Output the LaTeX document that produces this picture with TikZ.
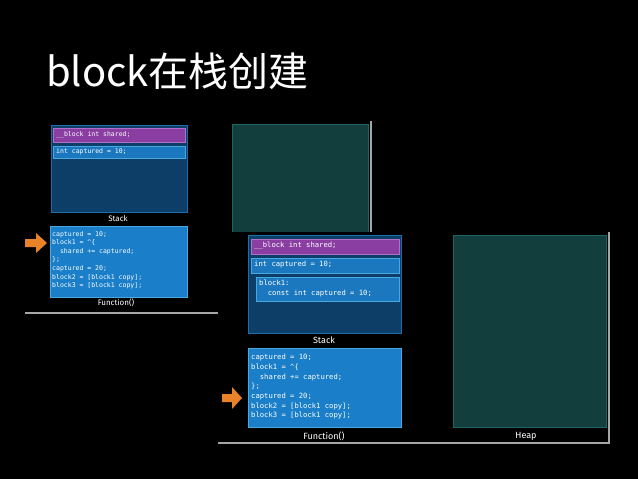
\documentclass[tikz,border=0pt]{standalone}
\usepackage{fontspec}
\setmainfont{Noto Sans CJK SC}
\newfontfamily\codefont{DejaVu Sans Mono}
\newfontfamily\labfont{Fira Sans}
\begin{document}
\begin{tikzpicture}[x=1pt,y=-1pt,
  stackbox/.style={draw=stackedge,fill=stackfill,line width=0.8pt},
  heapbox/.style={draw=heapedge,fill=heapfill,line width=0.8pt},
  purp/.style={draw=purpedge,fill=purpfill,line width=0.8pt},
  capbox/.style={draw=capedge,fill=capfill,line width=0.8pt},
  func/.style={draw=capedge,fill=funcfill,line width=0.8pt},
  code/.style 2 args={text=white,anchor=north west,inner sep=0pt,align=left,font=\codefont\fontsize{#1}{#2}\selectfont},
  lab/.style={text=white,font=\labfont\fontsize{#1}{#1}\selectfont},
  arr/.style={fill=orangeA,draw=none},
  edge/.style={draw=gray!70,line width=1.2pt}]
\definecolor{stackfill}{HTML}{0C3E68}
\definecolor{stackedge}{HTML}{1C6FA8}
\definecolor{heapfill}{HTML}{123E3E}
\definecolor{heapedge}{HTML}{1F6464}
\definecolor{purpfill}{HTML}{8A3EA2}
\definecolor{purpedge}{HTML}{B070C8}
\definecolor{capfill}{HTML}{1C78BE}
\definecolor{capedge}{HTML}{4AA8E0}
\definecolor{funcfill}{HTML}{1A7EC8}
\definecolor{orangeA}{HTML}{E8832A}
\fill[black] (0,0) rectangle (638,479);
\useasboundingbox (0,0) rectangle (638,479);
\node[anchor=base west,text=white,inner sep=0pt,font=\fontsize{40}{40}\selectfont] (title) at (46,86) {block在栈创建};
% panel 1
\draw[edge] (371,121) -- (371,232);
\draw[edge] (25,313) -- (218,313);
\draw[stackbox] (51,125) rectangle (187,212);
\draw[purp] (53,128) rectangle (185,142);
\node[code={6.5}{8.6}] (p1a) at (56,131) {\_\_block int shared;};
\draw[capbox] (53,146) rectangle (185,158);
\node[code={6.5}{8.6}] (p1b) at (56,148) {int captured = 10;};
\node[lab=8] (p1s) at (118,219) {Stack};
\draw[func] (50,226) rectangle (187,297);
\node[code={6.5}{8.6}] (p1c) at (52,231) {captured = 10;\\block1 = \^{}\{\\\ \ shared += captured;\\\};\\captured = 20;\\block2 = [block1 copy];\\block3 = [block1 copy];};
\node[lab=8] (p1f) at (116,303) {Function()};
\fill[arr] (25,239) -- (36,239) -- (36,233) -- (47,243) -- (36,253) -- (36,247) -- (25,247) -- cycle;
\draw[heapbox] (232,124) rectangle (368,232);
% panel 2
\fill[black] (218,232) rectangle (608,442);
\draw[edge] (609,232) -- (609,444);
\draw[edge] (218,443) -- (609,443);
\draw[stackbox] (248,235) rectangle (401,333);
\draw[purp] (251,239) rectangle (399,254);
\node[code={7.2}{9.7}] (p2a) at (254,242) {\_\_block int shared;};
\draw[capbox] (251,258) rectangle (399,273);
\node[code={7.2}{9.7}] (p2b) at (254,261) {int captured = 10;};
\draw[capbox] (256,277) rectangle (399,301);
\node[code={7.2}{9.7}] (p2c) at (259,280) {block1:\\\ \ const int captured = 10;};
\node[lab=9] (p2s) at (324,340) {Stack};
\draw[func] (248,348) rectangle (401,427);
\node[code={7.2}{9.7}] (p2d) at (251,354) {captured = 10;\\block1 = \^{}\{\\\ \ shared += captured;\\\};\\captured = 20;\\block2 = [block1 copy];\\block3 = [block1 copy];};
\node[lab=9] (p2f) at (324,436) {Function()};
\fill[arr] (222,394) -- (232,394) -- (232,387) -- (242,398) -- (232,409) -- (232,402) -- (222,402) -- cycle;
\draw[heapbox] (453,235) rectangle (606,427);
\node[lab=9] (p2h) at (526,436) {Heap};
\end{tikzpicture}
\end{document}
